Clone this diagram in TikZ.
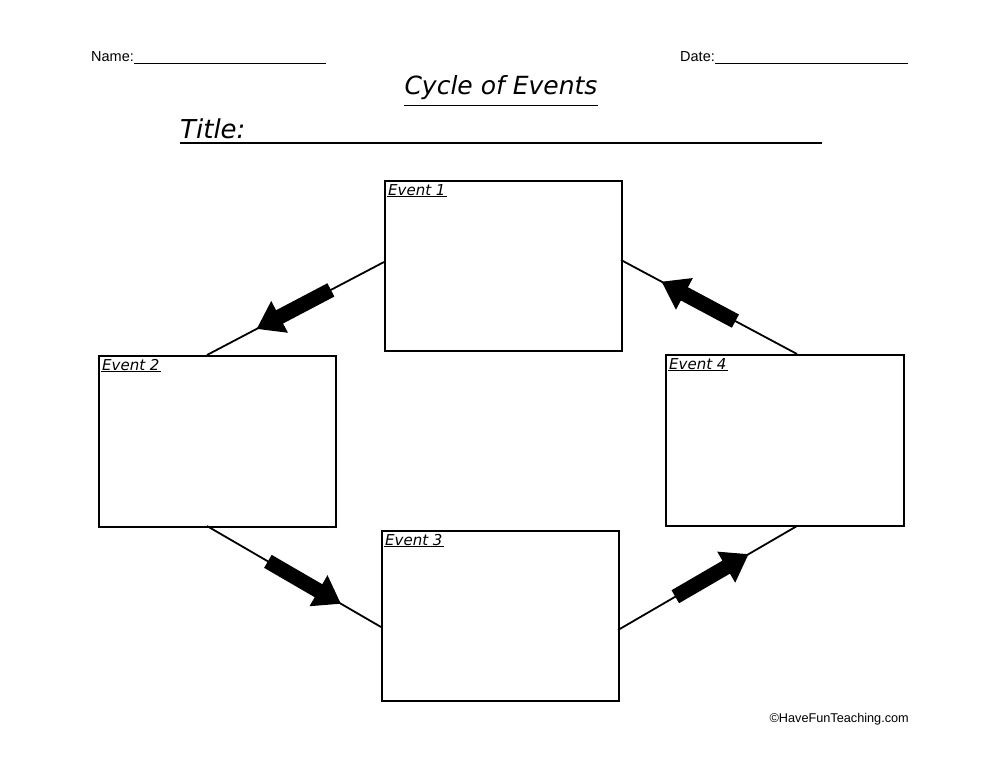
\documentclass[tikz,border=0pt]{standalone}
\usepackage{fontspec}
\setmainfont{Liberation Sans}
\newfontfamily\hand{DejaVu Sans}
\usetikzlibrary{arrows.meta,calc}
\begin{document}
\begin{tikzpicture}[x=1pt,y=-1pt,
  evbox/.style={draw,line width=2.3pt,anchor=north west,inner sep=0pt},
  conn/.style={line width=1.8pt},
  fat/.style={line width=15pt,-{Triangle[width=34pt,length=26pt]}},
  evlab/.style={anchor=north west,font=\hand\itshape\fontsize{15}{17}\selectfont,inner sep=1pt}]
\fill[white] (0,0) rectangle (1000,773);
\useasboundingbox (0,0) rectangle (1000,773);
% header
\node[anchor=west,font=\fontsize{14.5}{16}\selectfont,inner sep=0] (name) at (91,57) {Name:};
\coordinate (nameend) at (326,64);
\draw[line width=1pt] (name.east|-nameend) -- (nameend);
\node[anchor=west,font=\fontsize{14.5}{16}\selectfont,inner sep=0] (date) at (680,57) {Date:};
\coordinate (dateend) at (908,64);
\draw[line width=1pt] (date.east|-dateend) -- (dateend);
\node[font=\hand\itshape\fontsize{25}{30}\selectfont,inner sep=0] (cyc) at (501,88) {Cycle of Events};
\draw[line width=1.2pt] ($(cyc.south west)+(0,5)$) -- ($(cyc.south east)+(0,5)$);
\node[anchor=west,font=\hand\itshape\fontsize{26}{30}\selectfont,inner sep=0] (tit) at (180,129) {Title:};
\coordinate (titend) at (822,143);
\draw[line width=2pt] (180,143) -- (titend);
% boxes
\node[evbox,minimum width=237pt,minimum height=170pt] (e1) at (384,180) {};
\node[evbox,minimum width=237pt,minimum height=171pt] (e2) at (98,355) {};
\node[evbox,minimum width=237pt,minimum height=170pt] (e3) at (381,530) {};
\node[evbox,minimum width=238pt,minimum height=171pt] (e4) at (665,354) {};
\foreach \b/\t in {e1/Event 1,e2/Event 2,e3/Event 3,e4/Event 4}{
  \node[evlab] (l\b) at ($(\b.north west)+(3,3)$) {\t};
  \draw[line width=1pt] (l\b.south west) -- (l\b.south east);
}
% connectors
\coordinate (a1) at (384,262); \coordinate (b1) at (207,355);
\coordinate (a2) at (207,526); \coordinate (b2) at (381,627);
\coordinate (a3) at (618,630); \coordinate (b3) at (797,526);
\coordinate (a4) at (797,354); \coordinate (b4) at (621,260);
\foreach \i/\s/\e in {1/0.30/0.72,2/0.35/0.77,3/0.32/0.73,4/0.35/0.77}{
  \draw[conn] (a\i) -- (b\i);
  \draw[fat] ($(a\i)!\s!(b\i)$) -- ($(a\i)!\e!(b\i)$);
}
\node[anchor=east,font=\fontsize{12.7}{14}\selectfont,inner sep=0] (copy) at (909,719) {©HaveFunTeaching.com};
\end{tikzpicture}
\end{document}
